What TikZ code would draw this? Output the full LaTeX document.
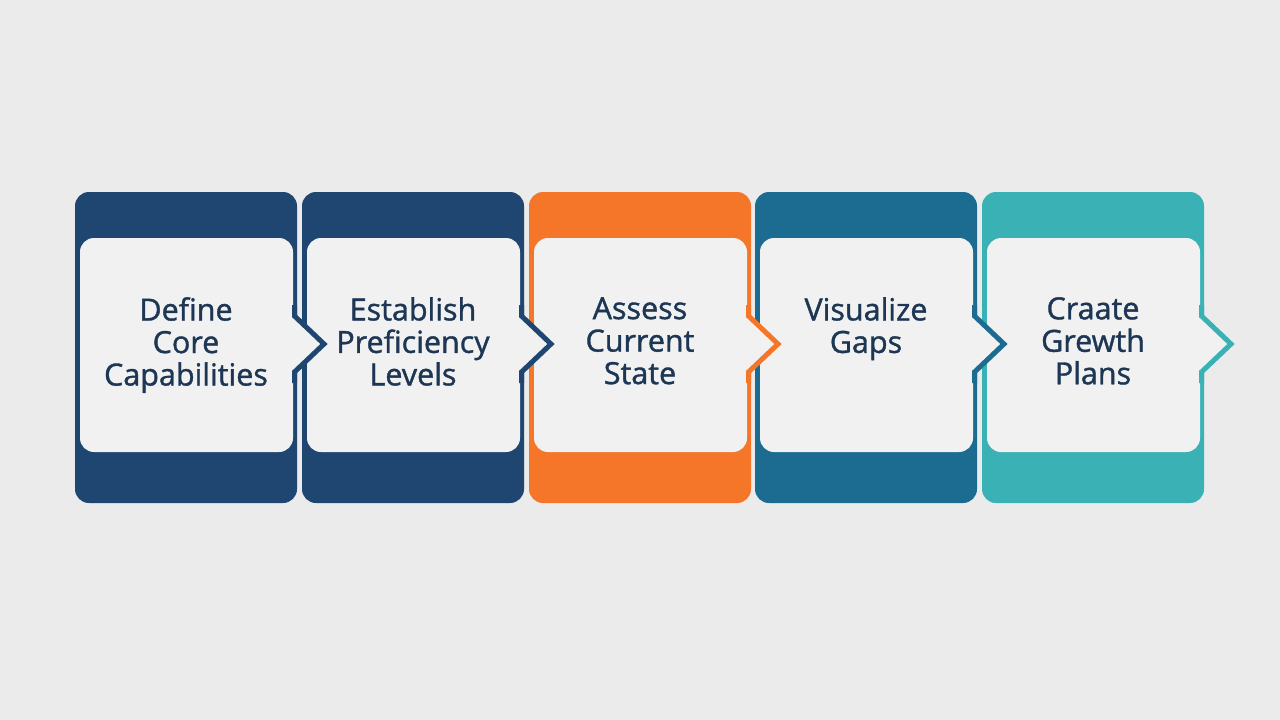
\documentclass[tikz,border=0pt]{standalone}
\usepackage{fontspec}
\setmainfont{Open Sans}
\newfontfamily\cardfont[BoldFont={Open Sans}, BoldFeatures={FakeBold=1.2}]{Open Sans}
\definecolor{bgc}{HTML}{EBEBEB}
\definecolor{innerc}{HTML}{F1F1F1}
\definecolor{navy}{HTML}{1F4670}
\definecolor{orangec}{HTML}{F57628}
\definecolor{bluec}{HTML}{1B6C90}
\definecolor{tealc}{HTML}{3AB1B5}
\definecolor{txtc}{HTML}{1C3654}
\tikzset{
  cardtext/.style={text=txtc, font=\cardfont\bfseries\fontsize{30.5}{32.5}\selectfont, align=center, anchor=north, inner sep=0pt},
  chev/.style={line width=5pt, line join=miter, line cap=butt}
}
\begin{document}
\begin{tikzpicture}[x=1pt,y=-1pt]
\fill[bgc] (0,0) rectangle (1280,720);
\useasboundingbox (0,0) rectangle (1280,720);
% cards
\foreach \L/\c [count=\i] in {75/navy,302/navy,529/orangec,755/bluec,982/tealc}{
  \fill[\c, rounded corners=14pt] (\L,192) rectangle ++(222,311);
  \fill[innerc, rounded corners=14pt] (\L+5,238) rectangle (\L+218,452);
  \coordinate (t\i) at (\L+111,297);
}
% chevrons
\foreach \L/\c in {75/navy,302/navy,529/orangec,755/bluec,982/tealc}{
  \fill[innerc] (\L+217,314) -- (\L+249,344) -- (\L+217,374) -- cycle;
  \draw[\c, chev] (\L+219.5,305) -- (\L+219.5,316) -- (\L+249,344) -- (\L+219.5,372) -- (\L+219.5,383);
}
\node[cardtext] (n1) at (t1) {Define\\Core\\Capabilities};
\node[cardtext] (n2) at (t2) {Establish\\Preficiency\\Levels};
\node[cardtext] (n3) at (t3) {Assess\\Current\\State};
\node[cardtext] (n4) at (t4) {Visualize\\Gaps};
\node[cardtext] (n5) at (t5) {Craate\\Grewth\\Plans};
\end{tikzpicture}
\end{document}
